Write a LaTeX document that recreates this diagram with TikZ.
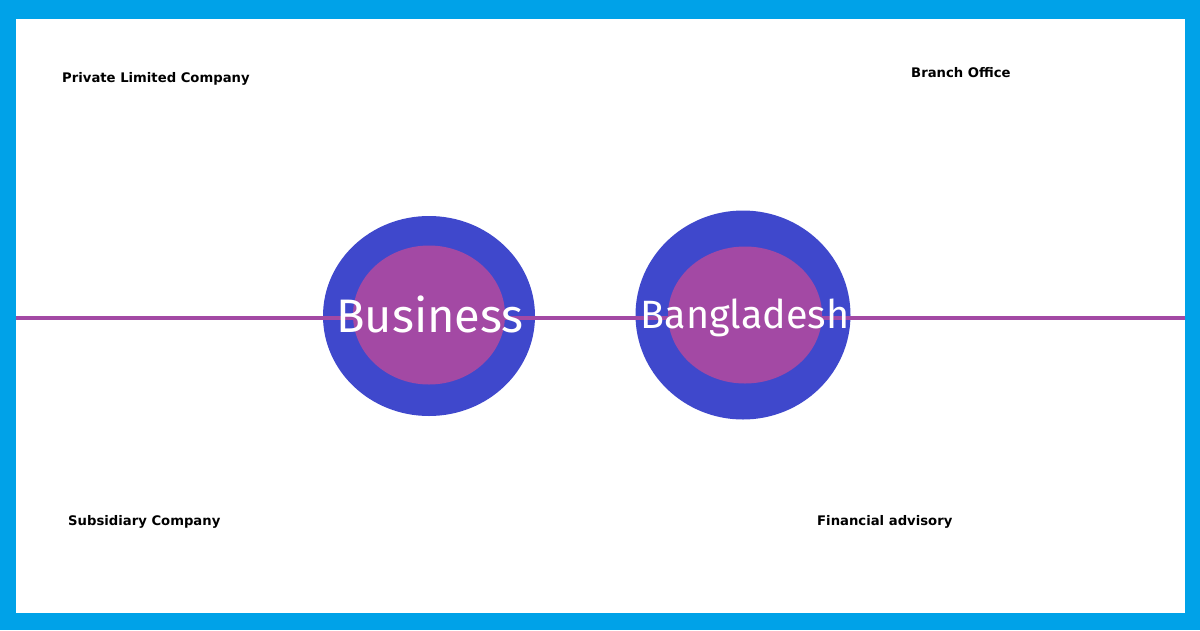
\documentclass[tikz,border=0pt]{standalone}
\usepackage{fontspec}
\setmainfont{DejaVu Sans}
\newfontfamily\bigfont{Fira Sans}
\usetikzlibrary{shapes.geometric}
\definecolor{myframe}{RGB}{0,162,232}
\definecolor{myindigo}{RGB}{63,72,204}
\definecolor{mypurple}{RGB}{163,73,164}

\tikzset{
    ring/.style={ellipse, fill=myindigo, inner sep=0pt},
    core/.style={ellipse, fill=mypurple, inner sep=0pt},
    tag/.style={anchor=base west, inner sep=0pt, font=\bfseries\fontsize{13.2}{16}\selectfont},
    title/.style={anchor=base, inner sep=0pt, text=white, font=\bigfont\fontsize{47}{50}\selectfont},
    link/.style={draw=mypurple, line width=4pt}
}

\begin{document}
\begin{tikzpicture}[x=1pt, y=-1pt]
    \useasboundingbox (0, 0) rectangle (1200, 630);
    \fill[myframe] (0, 0) rectangle (1200, 630);
    \fill[white] (16, 19) rectangle (1185, 613);
    % circles
    \node[ring, minimum width=212pt, minimum height=200pt] (busring) at (429, 316) {};
    \node[core, minimum width=152pt, minimum height=139pt] (buscore) at (429, 315) {};
    \node[ring, minimum width=215pt, minimum height=209pt] (bdring) at (743, 315) {};
    \node[core, minimum width=154pt, minimum height=137pt] (bdcore) at (745, 315) {};
    % line
    \coordinate (west) at (16, 318);
    \coordinate (east) at (1185, 318);
    \draw[link] (west) -- (east);
    % words
    \node[title] (business) at (430, 332) {Business};
    \node[title, font=\bigfont\fontsize{39.5}{42}\selectfont] (bangladesh) at (745, 328) {Bangladesh};
    \node[tag] (private) at (62, 82) {Private Limited Company};
    \node[tag] (branch) at (911, 77) {Branch Office};
    \node[tag] (subsidiary) at (68, 525) {Subsidiary Company};
    \node[tag] (financial) at (817, 525) {Financial advisory};
\end{tikzpicture}
\end{document}
